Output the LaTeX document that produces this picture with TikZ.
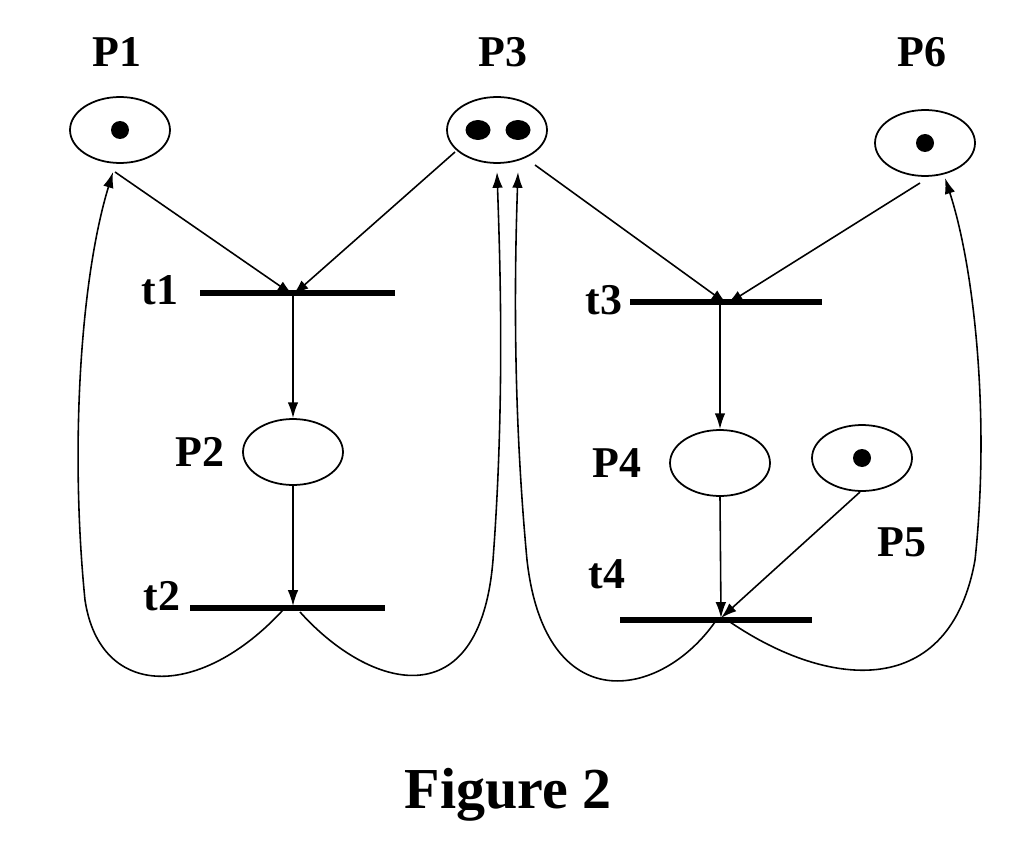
\documentclass[tikz,border=0pt]{standalone}
\usepackage{fontspec}
\setmainfont{Liberation Serif}
\usetikzlibrary{shapes.geometric,arrows.meta}
\begin{document}
\begin{tikzpicture}[x=0.02cm,y=-0.02cm,
 pl/.style={draw,ellipse,minimum width=2cm,minimum height=1.32cm,inner sep=0pt,line width=1pt},
 tr/.style={line width=3pt},
 arc/.style={-{Latex[length=9pt,width=6pt]},line width=0.9pt},
 lbl/.style={font=\fontsize{25}{29}\selectfont\bfseries},
 tok/.style={fill=black,circle,minimum size=0.36cm,inner sep=0pt}]
\useasboundingbox (0,0) rectangle (1024,858);
\node[pl] (P1) at (120,130) {}; \node[tok] at (120,130) {};
\node[pl] (P3) at (497,130) {};
\node[fill=black,ellipse,minimum width=0.5cm,minimum height=0.4cm,inner sep=0pt] at (478,130) {};
\node[fill=black,ellipse,minimum width=0.5cm,minimum height=0.4cm,inner sep=0pt] at (518,130) {};
\node[pl] (P6) at (925,143) {}; \node[tok] at (925,143) {};
\node[pl] (P2) at (293,452) {};
\node[pl] (P4) at (720,463) {};
\node[pl] (P5) at (862,458) {}; \node[tok] at (862,458) {};
\coordinate (t1a) at (200,293); \coordinate (t1b) at (395,293);
\coordinate (t2a) at (190,608); \coordinate (t2b) at (385,608);
\coordinate (t3a) at (630,302); \coordinate (t3b) at (822,302);
\coordinate (t4a) at (620,620); \coordinate (t4b) at (812,620);
\draw[tr] (t1a)--(t1b); \draw[tr] (t2a)--(t2b);
\draw[tr] (t3a)--(t3b); \draw[tr] (t4a)--(t4b);
\node[lbl] (l1) at (117,52) {P1};
\node[lbl] (l3) at (503,52) {P3};
\node[lbl] (l6) at (922,52) {P6};
\node[lbl] (lt1) at (160,290) {t1};
\node[lbl] (l2) at (200,452) {P2};
\node[lbl] (lt2) at (162,596) {t2};
\node[lbl] (lt3) at (604,300) {t3};
\node[lbl] (l4) at (617,463) {P4};
\node[lbl] (l5) at (902,542) {P5};
\node[lbl] (lt4) at (607,574) {t4};
\node[font=\fontsize{33}{38}\selectfont\bfseries] (fig) at (508,795) {Figure 2};
\coordinate (t1in) at (293,295);
\coordinate (t3in) at (727,304);
\coordinate (t2in) at (293,606);
\coordinate (t4in) at (721,618);
\draw[arc] (115,172) -- (t1in);
\draw[arc] (455,152) -- (t1in);
\draw[arc] (293,293) -- (P2.north);
\draw[arc] (P2.south) -- (t2in);
\draw[arc] (535,165) -- (t3in);
\draw[arc] (920,183) -- (t3in);
\draw[arc] (720,302) -- (P4.north);
\draw[arc] (P4.south) -- (t4in);
\draw[arc] (860,492) -- (t4in);
\draw[arc] (283,610) .. controls (200,700) and (100,700) .. (85,600) .. controls (70,450) and (80,280) .. (113,172);
\draw[arc] (300,612) .. controls (370,690) and (480,720) .. (493,560) .. controls (505,400) and (500,260) .. (497,172);
\draw[arc] (715,622) .. controls (660,700) and (545,720) .. (527,560) .. controls (512,400) and (515,260) .. (518,172);
\draw[arc] (730,622) .. controls (830,690) and (950,700) .. (975,560) .. controls (990,420) and (975,270) .. (945,178);
\end{tikzpicture}
\end{document}
